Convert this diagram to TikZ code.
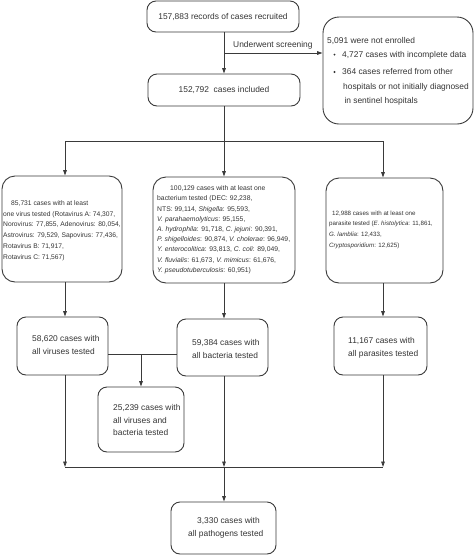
\documentclass[tikz,border=0pt]{standalone}
\usepackage{fontspec}
\setmainfont{Liberation Sans}
\usetikzlibrary{arrows.meta}
\definecolor{lnc}{HTML}{3A3A3A}
\definecolor{txc}{HTML}{333333}
\begin{document}
\begin{tikzpicture}[x=1pt,y=-1pt,
  box/.style={draw=lnc, line width=0.9pt, rounded corners=9pt, inner sep=0pt, text=txc, font=\fontsize{8.4}{12.7}\selectfont},
  bigbox/.style={box, rounded corners=13pt},
  lbl/.style={inner sep=0pt, text=txc, font=\fontsize{8.4}{12.7}\selectfont, align=left},
  vtxt/.style={inner sep=0pt, text=txc, font=\fontsize{6.7}{10.7}\selectfont, align=left},
  btxt/.style={inner sep=0pt, text=txc, font=\fontsize{6.8}{10.2}\selectfont, align=left},
  ptxt/.style={inner sep=0pt, text=txc, font=\fontsize{6.2}{10.7}\selectfont, align=left},
  conn/.style={draw=lnc, line width=0.9pt},
  arr/.style={conn, -{Triangle[length=5.5pt,width=3.6pt]}}]
\useasboundingbox (0,0) rectangle (474,555);

% boxes
\node[box, minimum width=152pt, minimum height=31pt] (b1) at (223,16.5) {157,883 records of cases recruited};
\node[box, minimum width=152pt, minimum height=32pt] (b2) at (224,90) {152,792\ \ cases included};
\node[bigbox, rounded corners=16pt, minimum width=150pt, minimum height=107pt] (ex) at (398,70.5) {};
\node[bigbox, minimum width=120pt, minimum height=106pt] (v) at (62,229) {};
\node[bigbox, minimum width=142pt, minimum height=106pt] (bac) at (224,230) {};
\node[bigbox, minimum width=117pt, minimum height=105pt] (p) at (384.5,230.5) {};
\node[box, minimum width=91pt, minimum height=58pt] (a1) at (62.5,346) {};
\node[box, minimum width=91pt, minimum height=57pt] (a2) at (222.5,347.5) {};
\node[box, minimum width=93pt, minimum height=58pt] (a3) at (380.5,346) {};
\node[box, minimum width=86pt, minimum height=65pt] (vb) at (141,419.5) {};
\node[box, minimum width=105pt, minimum height=52pt] (f) at (223.5,528) {};

% texts of the excluded box
\node[lbl, anchor=base west] (ex1) at (327,43.8) {5,091 were not enrolled};
\node[lbl, anchor=base west] (ex2) at (342,57.1) {4,727 cases with incomplete data};
\node[lbl, anchor=base west] (ex3) at (342,74.5) {364 cases referred from other};
\node[lbl, anchor=base west] (ex4) at (343,89.5) {hospitals or not initially diagnosed};
\node[lbl, anchor=base west] (ex5) at (344.3,103.8) {in sentinel hospitals};
\fill[txc] (334.5,54.6) circle (1.1pt);
\fill[txc] (334.5,71.9) circle (1.1pt);

\node[lbl, anchor=base west] (uw) at (233,47.8) {Underwent screening};

% texts of the three middle boxes
\node[vtxt, anchor=north west] (vt) at (3,200.5) {\hspace*{8pt}85,731 cases with at least\\one virus tested (Rotavirus A: 74,307,\\Norovirus: 77,855, Adenovirus: 80,054,\\Astrovirus: 79,529, Sapovirus: 77,436,\\Rotavirus B: 71,917,\\Rotavirus C: 71,567)};
\node[btxt, anchor=north west] (bt) at (157,185.5) {\hspace*{13pt}100,129 cases with at least one\\bacterium tested (DEC: 92,238,\\NTS: 99,114, \textit{Shigella}: 95,593,\\\textit{V. parahaemolyticus}: 95,155,\\\textit{A. hydrophila}: 91,718, \textit{C. jejuni}: 90,391,\\\textit{P. shigelloides}: 90,874, \textit{V. cholerae}: 96,949,\\\textit{Y. enterocolitica}: 93,813, \textit{C. coli}: 89,049,\\\textit{V. fluvialis}: 61,673, \textit{V. mimicus}: 61,676,\\\textit{Y. pseudotuberculosis}: 60,951)};
\node[ptxt, anchor=north west] (pt) at (329,210.6) {\hspace*{3pt}12,988 cases with at least one\\parasite tested (\textit{E. histolytica}: 11,861,\\\textit{G. lamblia}: 12,433,\\\textit{Cryptosporidium}: 12,625)};

% texts of the lower boxes
\node[lbl, anchor=north west] (a1t) at (32,335.4) {58,620 cases with\\all viruses tested};
\node[lbl, anchor=north west] (a2t) at (192,339.1) {59,384 cases with\\all bacteria tested};
\node[lbl, anchor=north west] (a3t) at (348,337.7) {11,167 cases with\\all parasites tested};
\node[lbl, anchor=north west] (vbt) at (113,404.1) {25,239 cases with\\all viruses and\\bacteria tested};
\node[lbl, anchor=north west] (ft) at (188,517.1) {\hspace*{9pt}3,330 cases with\\all pathogens tested};

% junction coordinates
\coordinate (sp) at (224,53);
\coordinate (cx) at (65,141);
\coordinate (cm) at (224,141);
\coordinate (cr) at (383,141);
\coordinate (jv) at (141,354);
\coordinate (bl) at (65,467);
\coordinate (bm) at (224,467);
\coordinate (br) at (383,467);

% connectors
\draw[arr] (b1.south -| cm) -- (b2.north -| cm);
\draw[arr] (sp) -- (ex.west |- sp);
\draw[conn] (b2.south -| cm) -- (cm);
\draw[conn] (cx) -- (cr);
\draw[arr] (cx) -- (v.north -| cx);
\draw[arr] (cm) -- (bac.north -| cm);
\draw[arr] (cr) -- (p.north -| cr);
\draw[arr] (v.south -| cx) -- (a1.north -| cx);
\draw[arr] (bac.south -| cm) -- (a2.north -| cm);
\draw[arr] (p.south -| cr) -- (a3.north -| cr);
\draw[conn] (jv -| a1.east) -- (jv -| a2.west);
\draw[arr] (jv) -- (vb.north -| jv);
\draw[arr] (a1.south -| bl) -- (bl);
\draw[arr] (a2.south -| bm) -- (bm);
\draw[arr] (a3.south -| br) -- (br);
\draw[conn] (bl) -- (br);
\draw[arr] (bm) -- (f.north -| bm);
\end{tikzpicture}
\end{document}
